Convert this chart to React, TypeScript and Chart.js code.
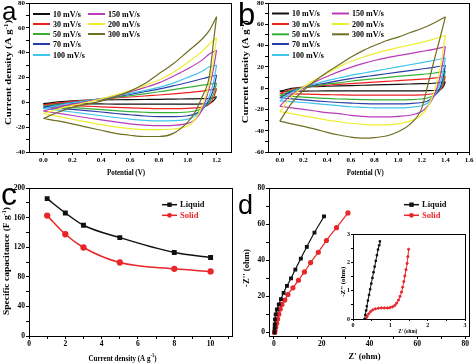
import React, { useEffect, useRef } from "react";
import { Chart, registerables } from "chart.js";

Chart.register(...registerables);

const SERIF = "'Liberation Serif', 'Times New Roman', serif";
const SANS = "'Liberation Sans', Arial, sans-serif";

// ---------- Panel a / b : CV curves ----------
const scanRates = ["10 mV/s", "30 mV/s", "50 mV/s", "70 mV/s", "100 mV/s", "150 mV/s", "200 mV/s", "300 mV/s"];
const scanColors = ["#111111", "#ee2020", "#35b035", "#2a3ea8", "#40c4ee", "#b83cb8", "#eeee30", "#6e6e24"];

// panel a: forward sweep potentials and currents
const aFwdV = [0, 0.1, 0.2, 0.3, 0.4, 0.5, 0.6, 0.7, 0.8, 0.9, 1.0, 1.1, 1.15, 1.2];
const aFwd10 = [-1, 0.3, 1.2, 1.6, 1.9, 2.1, 2.2, 2.3, 2.4, 2.6, 2.8, 3.0, 3.2, 4.5];
const aFwd30 = [-2, -0.5, 0.8, 1.8, 2.7, 3.5, 4.3, 5.1, 5.9, 6.8, 7.8, 9, 10, 11];
const aFwd50 = [-3, -1.5, 0, 1.5, 2.8, 4, 5.3, 6.8, 8.5, 10.2, 12, 13.8, 14.7, 15.5];
const aFwd70 = [-4, -2, -0.3, 1.2, 2.8, 4.5, 6.3, 8.5, 10.7, 13.3, 16, 19, 20.5, 22];
const aFwd100 = [-5, -2.5, -0.5, 1.2, 3, 5, 7.2, 9.5, 12, 15.5, 20, 25, 28.6, 30];
const aFwd150 = [-7, -4, -1.5, 0.5, 2.8, 5.3, 8.3, 11.8, 15.7, 21, 27, 34, 39, 42];
const aFwd200 = [-9, -5.5, -2.5, 0, 2.8, 6, 9.5, 13.5, 18, 24, 32, 41, 47, 52];
const aFwd300 = [-13, -8, -4, -1.5, 1, 4.5, 9, 15, 23, 31, 41, 51, 58, 69];
// panel a: reverse sweep
const aRevV = [1.2, 1.18, 1.15, 1.1, 1.05, 1.0, 0.9, 0.8, 0.7, 0.6, 0.5, 0.4, 0.3, 0.2, 0.1, 0];
const aRev10 = [4.5, 1.5, -0.8, -1.3, -1.4, -1.5, -1.5, -1.5, -1.5, -1.4, -1.4, -1.3, -1.2, -1.1, -1.0, -1.0];
const aRev30 = [11, 4, -1.5, -3.8, -4.5, -4.8, -5, -5, -4.8, -4.5, -4, -3.6, -3.1, -2.7, -2.3, -2];
const aRev50 = [15.5, 7, 0, -5, -7, -7.8, -8.3, -8.3, -8, -7.5, -6.7, -5.8, -5, -4.2, -3.6, -3];
const aRev70 = [22, 11, 2, -6, -9.5, -10.8, -11.5, -11.5, -11, -10, -9, -7.8, -6.7, -5.7, -4.8, -4];
const aRev100 = [30, 17, 5, -6, -11, -13.5, -14.8, -15, -14.5, -13.5, -12.2, -10.8, -9.3, -7.8, -6.3, -5];
const aRev150 = [42, 28, 12, -6, -14, -17, -18.5, -18.8, -18.3, -17.3, -15.8, -14.2, -12.4, -10.6, -8.8, -7];
const aRev200 = [52, 35, 15, -3, -14, -19, -21.5, -22, -22, -21.2, -19.8, -18, -15.8, -13.6, -11.3, -9];
const aRev300 = [69, 50, 21, 4.5, -8, -16, -25, -27.5, -27.5, -26.5, -25, -22.5, -20, -17.3, -15, -13];

// panel b
const bFwdV = [0, 0.1, 0.2, 0.3, 0.4, 0.5, 0.6, 0.7, 0.8, 0.9, 1.0, 1.1, 1.2, 1.3, 1.4];
const bFwd10 = [-3, -0.3, 1, 1.5, 1.8, 2.1, 2.4, 2.7, 3, 3.3, 3.6, 3.9, 4.2, 4.6, 6];
const bFwd30 = [-5, -1, 0.8, 1.8, 2.7, 3.5, 4.3, 5, 5.7, 6.4, 7, 7.7, 8.4, 9.5, 11];
const bFwd50 = [-7, -2, 0.5, 2.3, 3.8, 5, 6.5, 7.7, 8.8, 9.9, 11, 12, 13, 14, 16];
const bFwd70 = [-9, -3, 0.5, 3, 5, 7, 9, 10.5, 12, 13.5, 15, 16.5, 18, 19.5, 21.5];
const bFwd100 = [-12, -4, 0.5, 4, 7, 9.5, 12, 14, 16, 18, 20, 22, 24, 26, 28.5];
const bFwd150 = [-17, -6, 0, 6, 11, 15.5, 19.5, 23, 26, 28.5, 30.5, 32.5, 34.5, 36.5, 39];
const bFwd200 = [-22, -8, 1, 8, 14, 20, 25, 29, 32.5, 35.5, 38, 40.5, 43, 46, 49.5];
const bFwd300 = [-31, -14, -2, 7, 15, 22, 29, 35, 40, 44.5, 48, 52, 56, 61, 67];
const bRevV = [1.4, 1.38, 1.35, 1.3, 1.25, 1.2, 1.1, 1.0, 0.9, 0.8, 0.7, 0.6, 0.5, 0.4, 0.3, 0.2, 0.1, 0];
const bRev10 = [6, 1, -1.5, -2.2, -2.4, -2.5, -2.5, -2.5, -2.5, -2.5, -2.5, -2.5, -2.5, -2.6, -2.7, -2.8, -2.9, -3];
const bRev30 = [11, 3, -2.5, -5, -6, -6.3, -6.5, -6.5, -6.5, -6.5, -6.5, -6.5, -6.3, -6.1, -5.9, -5.6, -5.3, -5];
const bRev50 = [16, 6, -2, -7, -9.3, -10.2, -10.8, -11, -11, -11, -10.8, -10.5, -10.2, -9.7, -9.2, -8.5, -7.8, -7];
const bRev70 = [21.5, 9, -1, -8, -12, -13.5, -14.5, -14.8, -14.8, -14.8, -14.5, -14, -13.5, -12.8, -12, -11, -10, -9];
const bRev100 = [28.5, 15, 3, -8, -14, -16.5, -18, -18.5, -18.5, -18.5, -18, -17.5, -16.5, -15.5, -14.5, -13.5, -12.7, -12];
const bRev150 = [39, 25, 8, -8, -17, -22, -25.5, -26.5, -27, -27, -26.5, -25.5, -24, -23, -21.5, -20, -18.5, -17];
const bRev200 = [49.5, 35, 15, -5, -18, -25, -31, -33.5, -34.5, -34.5, -34, -33, -31.5, -30, -28, -26, -24, -22];
const bRev300 = [67, 58, 45, 24, 2, -19, -34, -41, -45, -46.5, -47, -46, -44, -41.5, -38.5, -36, -33.5, -31];

const aFwd = [aFwd10, aFwd30, aFwd50, aFwd70, aFwd100, aFwd150, aFwd200, aFwd300];
const aRev = [aRev10, aRev30, aRev50, aRev70, aRev100, aRev150, aRev200, aRev300];
const bFwd = [bFwd10, bFwd30, bFwd50, bFwd70, bFwd100, bFwd150, bFwd200, bFwd300];
const bRev = [bRev10, bRev30, bRev50, bRev70, bRev100, bRev150, bRev200, bRev300];

// ---------- Panel c ----------
const cCurrent = [1, 2, 3, 5, 8, 10];
const cLiquid = [185.6, 166.3, 149.7, 133, 112.8, 106];
const cSolid = [162.7, 137.5, 119.6, 99.3, 90.8, 87.2];

// ---------- Panel d ----------
const dLiquidZr = [0.31, 0.35, 0.4, 0.5, 0.8, 1.3, 2.1, 3.0, 4.1, 5.5, 7.2, 9.0, 11.3, 13.8, 17.0, 21.0];
const dLiquidZi = [0, 2.2, 4.4, 7.2, 10, 12.7, 15.5, 18.4, 21.9, 25.8, 29.9, 34.8, 40.9, 47.4, 55.3, 64.3];
const dSolidZr = [0.35, 0.5, 0.8, 1.2, 1.6, 2.1, 2.7, 3.4, 4.6, 5.9, 8.0, 10.3, 12.8, 15.4, 18.6, 22.0, 26.2, 31.0];
const dSolidZi = [0, 0.9, 2.8, 5, 7.4, 10.1, 12.9, 15.5, 17.9, 21, 24.7, 28.9, 33.5, 38.7, 44.4, 50.9, 58, 66.2];
// inset
const iLiquidZr = [0.31, 0.33, 0.35, 0.37, 0.4, 0.43, 0.46, 0.49, 0.52, 0.55, 0.58, 0.61, 0.64, 0.67, 0.7, 0.72];
const iLiquidZi = [0, 0.15, 0.3, 0.45, 0.65, 0.85, 1.05, 1.25, 1.45, 1.65, 1.85, 2.05, 2.25, 2.45, 2.6, 2.74];
const iSolidZr = [0.35, 0.38, 0.42, 0.47, 0.53, 0.6, 0.68, 0.76, 0.84, 0.92, 0.99, 1.06, 1.12, 1.17, 1.22, 1.26, 1.3, 1.33, 1.36, 1.39, 1.42, 1.45, 1.47, 1.49];
const iSolidZi = [0, 0.09, 0.18, 0.26, 0.32, 0.36, 0.38, 0.39, 0.39, 0.39, 0.4, 0.43, 0.48, 0.56, 0.67, 0.8, 0.95, 1.12, 1.32, 1.52, 1.74, 1.96, 2.2, 2.46];

const LIQ = "#111111";
const SOL = "#e8262a";

// ---------- helpers ----------
type Part = { t: string; sup?: boolean };
type TextItem = {
  parts: Part[]; x: number; y: number; size: number; rotate?: boolean; len?: number;
  family?: string; weight?: string; anchorLeft?: boolean; color?: string;
};
type LegendItem = {
  label: string; color: string; textColor: string; x: number; y: number; len: number;
  lw: number; marker?: "rect" | "circle"; size: number;
};

function drawText(ctx: CanvasRenderingContext2D, it: TextItem) {
  const fam = it.family ?? SERIF;
  const wt = it.weight ?? "bold";
  const font = (s: number) => `${wt} ${s}px ${fam}`;
  ctx.save();
  ctx.fillStyle = it.color ?? "#000";
  if (it.anchorLeft) {
    ctx.font = font(it.size);
    ctx.textAlign = "left";
    ctx.textBaseline = "alphabetic";
    ctx.fillText(it.parts.map((p) => p.t).join(""), it.x, it.y);
    ctx.restore();
    return;
  }
  let w = 0;
  const ws = it.parts.map((p) => {
    ctx.font = font(p.sup ? it.size * 0.65 : it.size);
    const m = ctx.measureText(p.t).width;
    w += m;
    return m;
  });
  const sx = it.len ? it.len / w : 1;
  ctx.translate(it.x, it.y);
  if (it.rotate) ctx.rotate(-Math.PI / 2);
  ctx.scale(sx, 1);
  ctx.textAlign = "left";
  ctx.textBaseline = "middle";
  let x = -w / 2;
  it.parts.forEach((p, i) => {
    ctx.font = font(p.sup ? it.size * 0.65 : it.size);
    ctx.fillText(p.t, x, p.sup ? -it.size * 0.33 : 0);
    x += ws[i];
  });
  ctx.restore();
}

function decor(texts: TextItem[], legends: LegendItem[], legendFont: number) {
  return {
    id: "decor",
    afterDraw(chart: any) {
      const ctx: CanvasRenderingContext2D = chart.ctx;
      const a = chart.chartArea;
      ctx.save();
      ctx.strokeStyle = "#000";
      ctx.lineWidth = 1;
      const l = Math.round(a.left) + 0.5;
      const t = Math.round(a.top) + 0.5;
      ctx.strokeRect(l, t, Math.round(a.right) - Math.round(a.left), Math.round(a.bottom) - Math.round(a.top));
      legends.forEach((g) => {
        ctx.strokeStyle = g.color;
        ctx.lineWidth = g.lw;
        ctx.beginPath();
        ctx.moveTo(g.x, g.y);
        ctx.lineTo(g.x + g.len, g.y);
        ctx.stroke();
        if (g.marker) {
          ctx.fillStyle = g.color;
          const cx = g.x + g.len / 2;
          if (g.marker === "rect") ctx.fillRect(cx - g.size, g.y - g.size, g.size * 2, g.size * 2);
          else {
            ctx.beginPath();
            ctx.arc(cx, g.y, g.size, 0, Math.PI * 2);
            ctx.fill();
          }
        }
        ctx.fillStyle = g.textColor;
        ctx.font = `bold ${legendFont}px ${SERIF}`;
        ctx.textAlign = "left";
        ctx.textBaseline = "middle";
        ctx.fillText(g.label, g.x + g.len + 3, g.y + 0.5);
      });
      texts.forEach((it) => drawText(ctx, it));
      ctx.restore();
    },
  };
}

function axis(o: {
  min: number; max: number; majors: number[]; minors: number[]; fmt: (v: number) => string;
  size: number; fit: number; horizontal: boolean; tickLen?: number; pad?: number;
}) {
  const all = [...o.majors, ...o.minors].sort((p, q) => p - q);
  return {
    type: "linear",
    min: o.min,
    max: o.max,
    afterBuildTicks: (s: any) => {
      s.ticks = all.map((v) => ({ value: v }));
    },
    afterFit: (s: any) => {
      if (o.horizontal) s.height = o.fit;
      else s.width = o.fit;
      s.paddingTop = 0;
      s.paddingBottom = 0;
      s.paddingLeft = 0;
      s.paddingRight = 0;
    },
    ticks: {
      autoSkip: false,
      maxRotation: 0,
      minRotation: 0,
      padding: o.pad ?? 1,
      color: "#000",
      font: { family: SERIF, weight: "bold", size: o.size },
      callback: (v: number) => (o.majors.some((m) => Math.abs(m - v) < 1e-9) ? o.fmt(v) : ""),
    },
    grid: { display: true, drawOnChartArea: false, drawTicks: true, tickLength: o.tickLen ?? 3, tickColor: "#000", tickWidth: 1 },
    border: { display: false },
  };
}

function baseOptions(padding: any, scales: any) {
  return {
    responsive: false,
    maintainAspectRatio: false,
    animation: false,
    devicePixelRatio: 1,
    layout: { padding },
    plugins: { legend: { display: false }, tooltip: { enabled: false } },
    events: [],
    scales,
  };
}

function pts(xs: number[], ys: number[]) {
  return xs.map((x, i) => ({ x, y: ys[i] }));
}

function cvDatasets(fwdV: number[], fwd: number[][], revV: number[], rev: number[][]) {
  const ds: any[] = [];
  scanColors.forEach((c, i) => {
    const common = {
      borderColor: c, backgroundColor: c, borderWidth: 1.2, pointRadius: 0, showLine: true,
      cubicInterpolationMode: "monotone", order: -i, clip: false,
    };
    ds.push({ ...common, data: pts(fwdV, fwd[i]) });
    ds.push({ ...common, data: pts(revV, rev[i]).slice().reverse() });
  });
  return ds;
}

function cvLegend(leftX: number, rightX: number, rows: number[]): LegendItem[] {
  return scanRates.map((r, i) => ({
    label: r, color: scanColors[i], textColor: "#000",
    x: i < 5 ? leftX : rightX, y: i < 5 ? rows[i] : rows[i - 5], len: 17, lw: 2, size: 0,
  }));
}

const cdTitle: Part[] = [{ t: "Current density (A g" }, { t: "-1", sup: true }, { t: ")" }];

function configA() {
  return {
    type: "scatter",
    data: { datasets: cvDatasets(aFwdV, aFwd, aRevV, aRev) },
    options: baseOptions({ left: 0, top: 3, right: 6, bottom: 0 }, {
      x: axis({ min: -0.1, max: 1.3, majors: [0, 0.2, 0.4, 0.6, 0.8, 1.0, 1.2], minors: [0.1, 0.3, 0.5, 0.7, 0.9, 1.1], fmt: (v) => v.toFixed(1), size: 7, fit: 30, horizontal: true }),
      y: axis({ min: -40, max: 80, majors: [-40, -20, 0, 20, 40, 60, 80], minors: [-30, -10, 10, 30, 50, 70], fmt: (v) => String(v), size: 7, fit: 29, horizontal: false }),
    }),
    plugins: [decor([
      { parts: [{ t: "a" }], x: 2, y: 20, size: 26, family: SANS, weight: "normal", anchorLeft: true },
      { parts: cdTitle, x: 9, y: 72.5, size: 9, rotate: true, len: 105 },
      { parts: [{ t: "Potential (V)" }], x: 126, y: 173, size: 8, len: 38 },
    ], cvLegend(33, 88, [14, 24, 34, 44, 55]), 8)],
  };
}

function configB() {
  return {
    type: "scatter",
    data: { datasets: cvDatasets(bFwdV, bFwd, bRevV, bRev) },
    options: baseOptions({ left: 0, top: 3, right: 5, bottom: 0 }, {
      x: axis({ min: -0.1, max: 1.6, majors: [0, 0.2, 0.4, 0.6, 0.8, 1.0, 1.2, 1.4, 1.6], minors: [0.1, 0.3, 0.5, 0.7, 0.9, 1.1, 1.3, 1.5], fmt: (v) => v.toFixed(1), size: 7, fit: 30, horizontal: true }),
      y: axis({ min: -60, max: 80, majors: [-60, -40, -20, 0, 20, 40, 60, 80], minors: [-50, -30, -10, 10, 30, 50, 70], fmt: (v) => String(v), size: 7, fit: 31, horizontal: false }),
    }),
    plugins: [decor([
      { parts: [{ t: "b" }], x: 1, y: 25, size: 31, family: SANS, weight: "normal", anchorLeft: true },
      { parts: cdTitle, x: 8.3, y: 71.7, size: 9, rotate: true, len: 103 },
      { parts: [{ t: "Potential (V)" }], x: 128.3, y: 173, size: 8, len: 37 },
    ], cvLegend(35, 95, [13.5, 24, 34.3, 44, 55]), 8)],
  };
}

function configC() {
  return {
    type: "scatter",
    data: {
      datasets: [
        { data: pts(cCurrent, cLiquid), borderColor: LIQ, backgroundColor: LIQ, borderWidth: 1.5, showLine: true, pointStyle: "rect", pointRadius: 2.4, cubicInterpolationMode: "monotone" },
        { data: pts(cCurrent, cSolid), borderColor: SOL, backgroundColor: SOL, borderWidth: 1.5, showLine: true, pointStyle: "circle", pointRadius: 2.4, cubicInterpolationMode: "monotone" },
      ],
    },
    options: baseOptions({ left: 0, top: 6, right: 5, bottom: 0 }, {
      x: axis({ min: 0, max: 11.15, majors: [0, 2, 4, 6, 8, 10], minors: [1, 3, 5, 7, 9, 11], fmt: (v) => String(v), size: 7.5, fit: 28, horizontal: true }),
      y: axis({ min: 0, max: 200, majors: [0, 40, 80, 120, 160, 200], minors: [20, 60, 100, 140, 180], fmt: (v) => String(v), size: 7.5, fit: 29, horizontal: false }),
    }),
    plugins: [decor([
      { parts: [{ t: "c" }], x: 1, y: 23, size: 32, family: SANS, weight: "normal", anchorLeft: true },
      { parts: [{ t: "Specific capacitance (F g" }, { t: "-1", sup: true }, { t: ")" }], x: 7, y: 79, size: 9, rotate: true, len: 108 },
      { parts: cdTitle, x: 122.5, y: 176.5, size: 8, len: 68 },
    ], [
      { label: "Liquid", color: LIQ, textColor: LIQ, x: 162, y: 22.7, len: 15, lw: 1.5, marker: "rect", size: 2.2 },
      { label: "Solid", color: SOL, textColor: SOL, x: 162, y: 33.3, len: 15, lw: 1.5, marker: "circle", size: 2.4 },
    ], 8.5)],
  };
}

function configD() {
  return {
    type: "scatter",
    data: {
      datasets: [
        { data: pts(dLiquidZr, dLiquidZi), borderColor: LIQ, backgroundColor: LIQ, borderWidth: 1.2, showLine: true, pointStyle: "rect", pointRadius: 1.9, cubicInterpolationMode: "monotone" },
        { data: pts(dSolidZr, dSolidZi), borderColor: SOL, backgroundColor: SOL, borderWidth: 1.2, showLine: true, pointStyle: "circle", pointRadius: 2, cubicInterpolationMode: "monotone" },
      ],
    },
    options: baseOptions({ left: 0, top: 6, right: 5, bottom: 0 }, {
      x: axis({ min: -2, max: 81.5, majors: [0, 20, 40, 60, 80], minors: [10, 30, 50, 70], fmt: (v) => String(v), size: 7.5, fit: 28, horizontal: true }),
      y: axis({ min: -2, max: 80, majors: [0, 20, 40, 60, 80], minors: [10, 30, 50, 70], fmt: (v) => String(v), size: 7.5, fit: 32, horizontal: false }),
    }),
    plugins: [decor([
      { parts: [{ t: "d" }], x: 1, y: 32, size: 27, family: SANS, weight: "normal", anchorLeft: true },
      { parts: [{ t: "-Z'' (ohm)" }], x: 10, y: 86, size: 8.5, rotate: true, len: 38 },
      { parts: [{ t: "Z' (ohm)" }], x: 127.5, y: 175, size: 8.5, len: 32 },
    ], [
      { label: "Liquid", color: LIQ, textColor: LIQ, x: 167, y: 22.7, len: 15, lw: 1.5, marker: "rect", size: 2.2 },
      { label: "Solid", color: SOL, textColor: SOL, x: 167, y: 33.3, len: 15, lw: 1.5, marker: "circle", size: 2.4 },
    ], 8.5)],
  };
}

function configInset() {
  return {
    type: "scatter",
    data: {
      datasets: [
        { data: pts(iLiquidZr, iLiquidZi), borderColor: LIQ, backgroundColor: LIQ, borderWidth: 1, showLine: true, pointStyle: "rect", pointRadius: 1.1 },
        { data: pts(iSolidZr, iSolidZi), borderColor: SOL, backgroundColor: SOL, borderWidth: 1, showLine: true, pointStyle: "circle", pointRadius: 1.1, cubicInterpolationMode: "monotone" },
      ],
    },
    options: baseOptions({ left: 0, top: 8, right: 4, bottom: 0 }, {
      x: axis({ min: 0, max: 3, majors: [0, 1, 2, 3], minors: [0.5, 1.5, 2.5], fmt: (v) => String(v), size: 6, fit: 21, horizontal: true, tickLen: 2 }),
      y: axis({ min: 0, max: 3, majors: [0, 1, 2, 3], minors: [0.5, 1.5, 2.5], fmt: (v) => String(v), size: 6, fit: 23, horizontal: false, tickLen: 2 }),
    }),
    plugins: [decor([
      { parts: [{ t: "Z' (ohm)" }], x: 77.8, y: 105.7, size: 5.5, len: 19 },
      { parts: [{ t: "-Z'' (ohm)" }], x: 13.3, y: 55.7, size: 5.5, rotate: true, len: 30 },
    ], [], 6)],
  };
}

function ChartCanvas({ left, top, width, height, build }: { left: number; top: number; width: number; height: number; build: () => any }) {
  const ref = useRef<HTMLCanvasElement>(null);
  useEffect(() => {
    const chart = new Chart(ref.current as HTMLCanvasElement, build());
    return () => chart.destroy();
  }, []);
  return (
    <canvas
      ref={ref}
      width={width}
      height={height}
      style={{ position: "absolute", left, top, width, height }}
    />
  );
}

export default function App() {
  return (
    <div style={{ position: "fixed", left: 0, top: 0, width: 474, height: 364, background: "#fff", overflow: "hidden" }}>
      <ChartCanvas left={0} top={0} width={237} height={182} build={configA} />
      <ChartCanvas left={237} top={0} width={237} height={182} build={configB} />
      <ChartCanvas left={0} top={182} width={237} height={182} build={configC} />
      <ChartCanvas left={237} top={182} width={237} height={182} build={configD} />
      <ChartCanvas left={330} top={226} width={140} height={114} build={configInset} />
    </div>
  );
}
